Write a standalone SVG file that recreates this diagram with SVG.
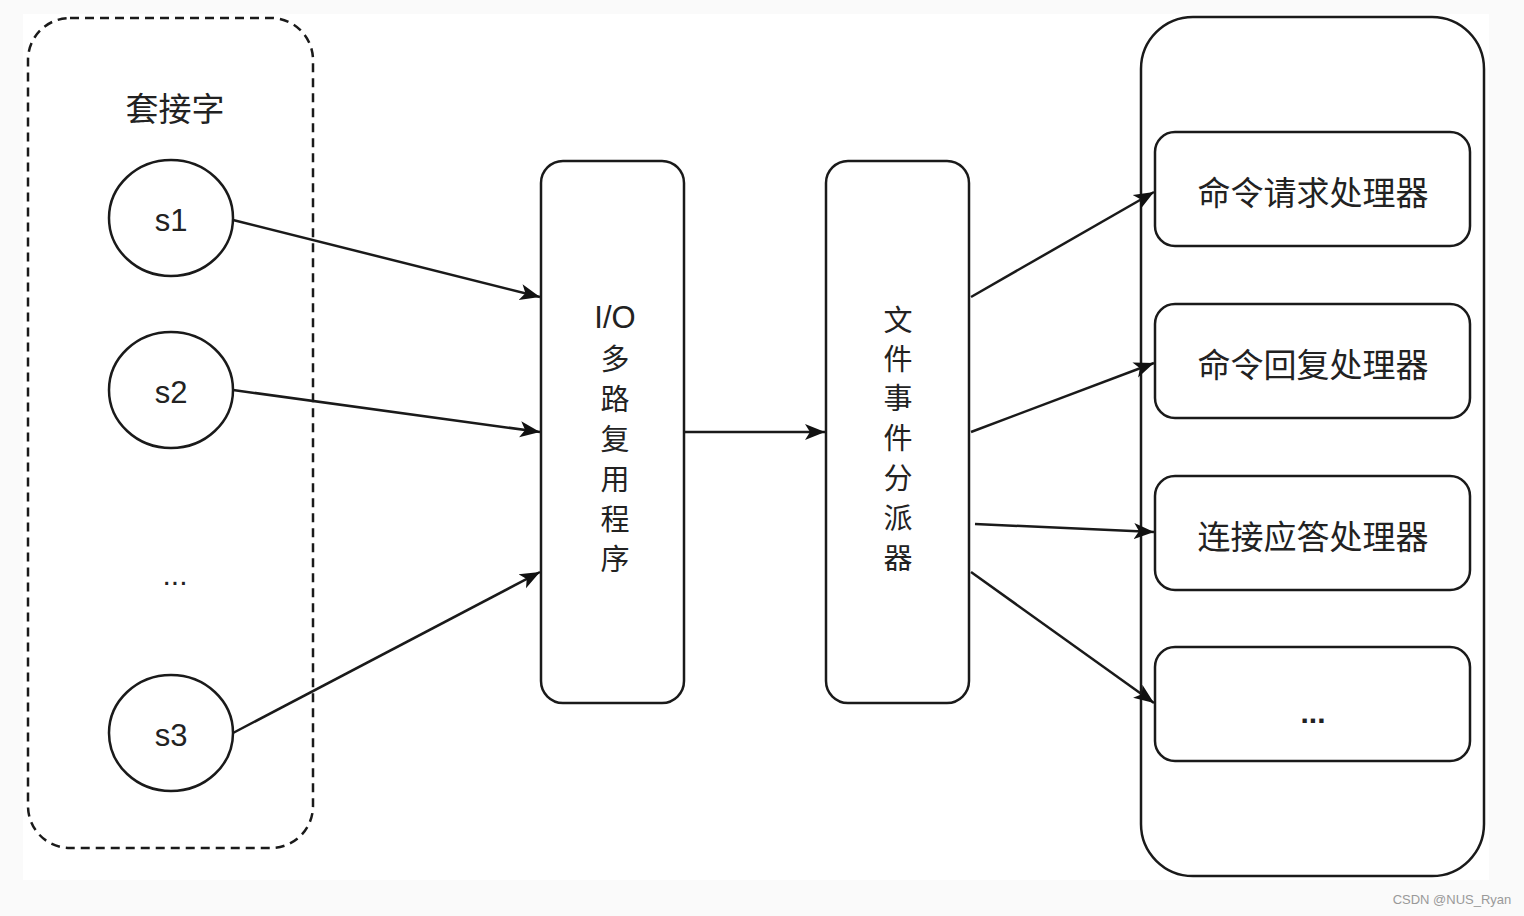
<svg xmlns="http://www.w3.org/2000/svg" width="1524" height="916" viewBox="0 0 1524 916">
<style>
.ln{fill:none;stroke:#1a1a1a;stroke-width:2.5}
.bx{fill:#fff;stroke:#1a1a1a;stroke-width:2.5}
.t{font-family:"Liberation Sans","Noto Sans CJK SC",sans-serif;fill:#222;text-anchor:middle;dominant-baseline:central}
.c{font-family:"Noto Sans CJK SC",sans-serif;font-size:33px;fill:#222;text-anchor:middle;dominant-baseline:central}
.v{font-family:"Noto Sans CJK SC",sans-serif;font-size:29px;fill:#222;text-anchor:middle;dominant-baseline:central}
</style>
<defs>
<marker id="ah" markerUnits="userSpaceOnUse" markerWidth="22" markerHeight="18" refX="20" refY="8" orient="auto" viewBox="0 0 22 16">
<path d="M0,0 L20,8 L0,16 L5,8 z" fill="#111"/>
</marker>
</defs>
<rect x="0" y="0" width="1524" height="916" fill="#fafafa"/>
<rect x="23" y="14" width="1466" height="866" fill="#fff"/>

<g id="sockets">
<rect x="28" y="18" width="285" height="830" rx="42" fill="none" stroke="#1a1a1a" stroke-width="2.5" stroke-dasharray="9 6"/>
<text class="c" x="175" y="107">套接字</text>
</g>
<g id="s1"><ellipse class="bx" cx="171" cy="218" rx="62" ry="58"/><text class="t" x="171" y="220" font-size="31">s1</text></g>
<g id="s2"><ellipse class="bx" cx="171" cy="390" rx="62" ry="58"/><text class="t" x="171" y="392" font-size="31">s2</text></g>
<g id="dots1"><text class="t" x="175" y="574" font-size="30">...</text></g>
<g id="s3"><ellipse class="bx" cx="171" cy="733" rx="62" ry="58"/><text class="t" x="171" y="735" font-size="31">s3</text></g>

<g id="io">
<rect class="bx" x="541" y="161" width="143" height="542" rx="22"/>
<text class="t" x="615" y="317" font-size="31">I/O</text>
<text class="v" x="615" y="357">多</text>
<text class="v" x="615" y="397">路</text>
<text class="v" x="615" y="437">复</text>
<text class="v" x="615" y="477">用</text>
<text class="v" x="615" y="517">程</text>
<text class="v" x="615" y="557">序</text>
</g>

<g id="dispatcher">
<rect class="bx" x="826" y="161" width="143" height="542" rx="22"/>
<text class="v" x="898" y="318">文</text>
<text class="v" x="898" y="357">件</text>
<text class="v" x="898" y="396">事</text>
<text class="v" x="898" y="436">件</text>
<text class="v" x="898" y="476">分</text>
<text class="v" x="898" y="516">派</text>
<text class="v" x="898" y="556">器</text>
</g>

<g id="handlers">
<rect class="bx" x="1141" y="17" width="343" height="859" rx="52"/>
</g>
<g id="h1"><rect class="bx" x="1155" y="132" width="315" height="114" rx="20"/><text class="c" x="1313" y="191">命令请求处理器</text></g>
<g id="h2"><rect class="bx" x="1155" y="304" width="315" height="114" rx="20"/><text class="c" x="1313" y="363">命令回复处理器</text></g>
<g id="h3"><rect class="bx" x="1155" y="476" width="315" height="114" rx="20"/><text class="c" x="1313" y="535">连接应答处理器</text></g>
<g id="h4"><rect class="bx" x="1155" y="647" width="315" height="114" rx="20"/><text class="t" x="1313" y="712" font-size="30" font-weight="bold">...</text></g>

<g id="connectors">
<line class="ln" x1="233" y1="220" x2="540" y2="297" marker-end="url(#ah)"/>
<line class="ln" x1="233" y1="390" x2="540" y2="432" marker-end="url(#ah)"/>
<line class="ln" x1="233" y1="733" x2="540" y2="572" marker-end="url(#ah)"/>
<line class="ln" x1="684" y1="432" x2="825" y2="432" marker-end="url(#ah)"/>
<line class="ln" x1="971" y1="297" x2="1154" y2="192" marker-end="url(#ah)"/>
<line class="ln" x1="971" y1="432" x2="1154" y2="363" marker-end="url(#ah)"/>
<line class="ln" x1="975" y1="524" x2="1154" y2="532" marker-end="url(#ah)"/>
<line class="ln" x1="971" y1="572" x2="1154" y2="703" marker-end="url(#ah)"/>
</g>

<text x="1452" y="899" font-family="Liberation Sans,sans-serif" font-size="13" fill="#999" text-anchor="middle" dominant-baseline="central">CSDN @NUS_Ryan</text>
</svg>
